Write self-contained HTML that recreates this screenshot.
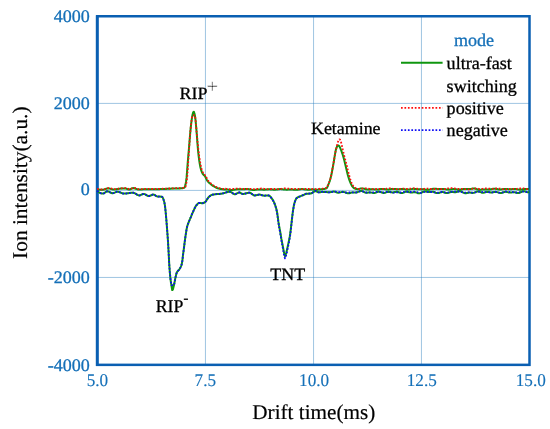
<!DOCTYPE html>
<html><head><meta charset="utf-8"><title>Ion mobility spectrum</title>
<style>
html,body{margin:0;padding:0;background:#fff;}
svg{display:block;}
text{font-family:"Liberation Serif",serif;text-rendering:geometricPrecision;}
.tk{font-size:17.9px;fill:#1570b8;stroke:#1570b8;stroke-width:0.3px;}
.lb{font-size:17.9px;fill:#000;stroke:#000;stroke-width:0.3px;}
.ax{font-size:21px;fill:#000;stroke:#000;stroke-width:0.18px;}
.tx{stroke-width:0.15px;}
.sup{stroke:none;}
.minus{font-size:16px;font-weight:bold;stroke:none;}
.plus{font-size:20px;stroke:#fff;stroke-width:0.45px;}
</style></head><body>
<svg width="550" height="429" viewBox="0 0 550 429">
<rect width="550" height="429" fill="#ffffff"/>
<g stroke="#2b7fbd" stroke-opacity="0.45" stroke-width="1" fill="none">
<line x1="205.45" y1="16.25" x2="205.45" y2="364.8"/>
<line x1="313.55" y1="16.25" x2="313.55" y2="364.8"/>
<line x1="421.45" y1="16.25" x2="421.45" y2="364.8"/>
<line x1="97.3" y1="103.40" x2="529.5" y2="103.40"/>
<line x1="97.3" y1="190.40" x2="529.5" y2="190.40"/>
<line x1="97.3" y1="277.45" x2="529.5" y2="277.45"/>
</g>
<g stroke="#0a5fb2" fill="none">
<rect x="97.3" y="16.25" width="432.2" height="348.6" stroke-width="2.5"/>
<line x1="97.2" y1="15.15" x2="97.2" y2="365.90000000000003" stroke-width="2.8"/>
</g>
<g fill="none" stroke-linejoin="round" stroke-linecap="butt">
<polyline stroke="#0f960f" stroke-width="2.0" points="97.2,189.3 97.8,189.4 98.4,189.6 99.0,189.6 99.6,189.7 100.2,189.7 100.8,189.8 101.4,189.8 102.0,189.8 102.6,189.8 103.2,189.7 103.8,189.6 104.4,189.4 105.0,189.2 105.6,189.0 106.2,188.8 106.8,188.6 107.4,188.5 108.0,188.4 108.6,188.4 109.2,188.5 109.8,188.6 110.4,188.8 111.0,188.9 111.6,189.1 112.2,189.3 112.8,189.4 113.4,189.5 114.0,189.5 114.6,189.5 115.2,189.4 115.8,189.3 116.4,189.2 117.0,189.1 117.6,189.0 118.2,188.9 118.8,188.8 119.4,188.8 120.0,188.7 120.6,188.6 121.2,188.6 121.8,188.5 122.4,188.5 123.0,188.5 123.6,188.4 124.2,188.4 124.8,188.4 125.4,188.5 126.0,188.6 126.6,188.8 127.2,189.0 127.8,189.2 128.4,189.4 129.0,189.5 129.6,189.5 130.2,189.3 130.8,189.0 131.4,188.7 132.0,188.4 132.6,188.2 133.2,188.1 133.8,188.2 134.4,188.3 135.0,188.5 135.6,188.7 136.2,188.9 136.8,189.1 137.4,189.3 138.0,189.5 138.6,189.5 139.2,189.5 139.8,189.5 140.4,189.5 141.0,189.4 141.6,189.4 142.2,189.4 142.8,189.3 143.4,189.3 144.0,189.3 144.6,189.2 145.2,189.2 145.8,189.2 146.4,189.2 147.0,189.2 147.6,189.2 148.2,189.2 148.8,189.2 149.4,189.2 150.0,189.2 150.6,189.3 151.2,189.3 151.8,189.3 152.4,189.3 153.0,189.3 153.6,189.3 154.2,189.3 154.8,189.3 155.4,189.3 156.0,189.3 156.6,189.3 157.2,189.3 157.8,189.2 158.4,189.2 159.0,189.2 159.6,189.2 160.2,189.1 160.8,189.1 161.4,189.1 162.0,189.0 162.6,189.0 163.2,189.0 163.8,189.0 164.4,188.9 165.0,188.9 165.6,188.9 166.2,188.9 166.8,188.8 167.4,188.8 168.0,188.8 168.6,188.8 169.2,188.7 169.8,188.7 170.4,188.7 171.0,188.7 171.6,188.6 172.2,188.6 172.8,188.6 173.4,188.6 174.0,188.5 174.6,188.5 175.2,188.5 175.8,188.5 176.4,188.5 177.0,188.4 177.6,188.4 178.2,188.4 178.8,188.4 179.4,188.4 180.0,188.4 180.6,188.3 181.2,188.3 181.8,188.2 182.4,188.2 183.0,188.1 183.6,187.9 184.2,187.7 184.8,187.2 185.4,185.1 186.0,181.9 186.6,177.4 187.2,169.7 187.8,161.8 188.4,154.9 189.0,148.0 189.6,140.5 190.2,133.2 190.8,127.1 191.4,121.8 192.0,117.6 192.6,114.5 193.2,112.2 193.8,111.7 194.4,113.3 195.0,116.0 195.6,120.6 196.2,127.3 196.8,134.4 197.4,142.6 198.0,150.0 198.6,155.6 199.2,160.4 199.8,164.1 200.4,167.2 201.0,169.6 201.6,171.3 202.2,172.8 202.8,173.9 203.4,174.7 204.0,175.2 204.6,175.7 205.2,176.5 205.8,177.7 206.4,179.1 207.0,180.3 207.6,181.2 208.2,181.9 208.8,182.5 209.4,183.1 210.0,183.6 210.6,184.1 211.2,184.6 211.8,185.0 212.4,185.5 213.0,185.8 213.6,186.2 214.2,186.5 214.8,186.9 215.4,187.2 216.0,187.5 216.6,187.8 217.2,188.1 217.8,188.3 218.4,188.5 219.0,188.6 219.6,188.7 220.2,188.9 220.8,189.0 221.4,189.1 222.0,189.2 222.6,189.2 223.2,189.3 223.8,189.4 224.4,189.4 225.0,189.4 225.6,189.4 226.4,189.4 227.2,189.5 228.0,189.6 228.8,189.7 229.6,189.8 230.4,189.9 231.2,190.0 232.0,190.0 232.8,189.9 233.6,189.8 234.4,189.7 235.2,189.6 236.0,189.4 236.8,189.3 237.6,189.3 238.4,189.2 239.2,189.2 240.0,189.3 240.8,189.3 241.6,189.3 242.4,189.3 243.2,189.3 244.0,189.2 244.8,189.2 245.6,189.1 246.4,189.1 247.2,189.1 248.0,189.1 248.8,189.2 249.6,189.4 250.4,189.5 251.2,189.7 252.0,189.8 252.8,189.9 253.6,189.9 254.4,189.9 255.2,189.8 256.0,189.8 256.8,189.6 257.6,189.6 258.4,189.5 259.2,189.5 260.0,189.5 260.8,189.5 261.6,189.6 262.4,189.6 263.2,189.7 264.0,189.7 264.8,189.7 265.6,189.6 266.4,189.5 267.2,189.4 268.0,189.4 268.8,189.3 269.6,189.3 270.4,189.4 271.2,189.4 272.0,189.5 272.8,189.6 273.6,189.7 274.4,189.7 275.2,189.7 276.0,189.6 276.8,189.5 277.6,189.4 278.4,189.3 279.2,189.2 280.0,189.1 280.8,189.1 281.6,189.2 282.4,189.2 283.2,189.4 284.0,189.5 284.8,189.6 285.6,189.6 286.4,189.7 287.2,189.7 288.0,189.6 288.8,189.6 289.6,189.5 290.4,189.5 291.2,189.5 292.0,189.5 292.8,189.6 293.6,189.7 294.4,189.7 295.2,189.8 296.0,189.8 296.8,189.7 297.6,189.7 298.4,189.5 299.2,189.4 300.0,189.3 300.8,189.2 301.6,189.1 302.4,189.1 303.2,189.2 304.0,189.3 304.8,189.4 305.6,189.5 306.4,189.6 307.2,189.7 308.0,189.8 308.8,189.7 309.6,189.7 310.4,189.6 311.2,189.6 312.0,189.5 312.8,189.5 313.6,189.5 314.4,189.6 315.2,189.6 316.0,189.7 316.8,189.7 317.6,189.7 318.4,189.6 319.2,189.6 320.0,189.4 320.8,189.3 321.6,189.2 322.0,189.2 322.6,189.2 323.2,189.1 323.8,189.0 324.4,188.9 325.0,188.8 325.6,188.6 326.2,188.3 326.8,188.0 327.4,186.9 328.0,185.5 328.6,184.0 329.2,182.5 329.8,180.8 330.4,178.8 331.0,176.6 331.6,173.7 332.2,170.5 332.8,167.4 333.4,164.1 334.0,160.5 334.6,156.6 335.2,153.2 335.8,150.1 336.4,148.1 337.0,146.6 337.6,145.8 338.2,145.4 338.8,145.7 339.4,146.3 340.0,147.4 340.6,149.0 341.2,150.5 341.8,152.1 342.4,153.8 343.0,155.7 343.6,157.8 344.2,160.1 344.8,162.6 345.4,165.0 346.0,167.5 346.6,170.0 347.2,172.5 347.8,174.9 348.4,177.0 349.0,178.9 349.6,180.6 350.2,182.2 350.8,183.6 351.4,184.8 352.0,185.9 352.6,186.8 353.2,187.4 353.8,187.9 354.4,188.3 355.0,188.6 355.6,188.8 356.2,189.0 356.8,189.1 357.4,189.2 358.0,189.2 358.6,188.9 359.4,188.8 360.2,188.6 361.0,188.5 361.8,188.4 362.6,188.5 363.4,188.6 364.2,188.8 365.0,189.0 365.8,189.2 366.6,189.4 367.4,189.5 368.2,189.5 369.0,189.5 369.8,189.4 370.6,189.3 371.4,189.3 372.2,189.2 373.0,189.3 373.8,189.3 374.6,189.4 375.4,189.5 376.2,189.6 377.0,189.6 377.8,189.5 378.6,189.4 379.4,189.3 380.2,189.1 381.0,189.0 381.8,188.9 382.6,188.9 383.4,189.0 384.2,189.1 385.0,189.2 385.8,189.4 386.6,189.5 387.4,189.6 388.2,189.5 389.0,189.5 389.8,189.3 390.6,189.2 391.4,189.0 392.2,188.9 393.0,188.9 393.8,188.9 394.6,189.0 395.4,189.1 396.2,189.2 397.0,189.2 397.8,189.2 398.6,189.2 399.4,189.2 400.2,189.1 401.0,189.0 401.8,188.9 402.6,188.9 403.4,189.0 404.2,189.1 405.0,189.3 405.8,189.4 406.6,189.6 407.4,189.6 408.2,189.6 409.0,189.6 409.8,189.4 410.6,189.3 411.4,189.1 412.2,188.9 413.0,188.8 413.8,188.8 414.6,188.9 415.4,189.0 416.2,189.1 417.0,189.2 417.8,189.3 418.6,189.3 419.4,189.3 420.2,189.3 421.0,189.2 421.8,189.2 422.6,189.2 423.4,189.2 424.2,189.3 425.0,189.4 425.8,189.6 426.6,189.7 427.4,189.8 428.2,189.8 429.0,189.7 429.8,189.5 430.6,189.3 431.4,189.1 432.2,188.9 433.0,188.8 433.8,188.7 434.6,188.7 435.4,188.7 436.2,188.8 437.0,188.9 437.8,189.0 438.6,189.1 439.4,189.1 440.2,189.1 441.0,189.0 441.8,188.9 442.6,188.9 443.4,188.9 444.2,189.0 445.0,189.1 445.8,189.3 446.6,189.4 447.4,189.6 448.2,189.6 449.0,189.6 449.8,189.6 450.6,189.5 451.4,189.3 452.2,189.2 453.0,189.1 453.8,189.0 454.6,189.1 455.4,189.2 456.2,189.3 457.0,189.4 457.8,189.6 458.6,189.6 459.4,189.6 460.2,189.6 461.0,189.5 461.8,189.3 462.6,189.2 463.4,189.1 464.2,189.0 465.0,189.0 465.8,189.0 466.6,189.1 467.4,189.1 468.2,189.1 469.0,189.1 469.8,189.0 470.6,188.9 471.4,188.8 472.2,188.6 473.0,188.6 473.8,188.5 474.6,188.6 475.4,188.7 476.2,188.9 477.0,189.1 477.8,189.4 478.6,189.6 479.4,189.7 480.2,189.7 481.0,189.7 481.8,189.6 482.6,189.5 483.4,189.4 484.2,189.4 485.0,189.4 485.8,189.4 486.6,189.4 487.4,189.5 488.2,189.5 489.0,189.5 489.8,189.4 490.6,189.3 491.4,189.2 492.2,189.0 493.0,188.8 493.8,188.8 494.6,188.7 495.4,188.8 496.2,188.9 497.0,189.0 497.8,189.2 498.6,189.4 499.4,189.5 500.2,189.5 501.0,189.4 501.8,189.3 502.6,189.2 503.4,189.1 504.2,189.0 505.0,188.9 505.8,188.9 506.6,189.0 507.4,189.1 508.2,189.2 509.0,189.3 509.8,189.3 510.6,189.3 511.4,189.2 512.2,189.1 513.0,189.0 513.8,189.0 514.6,188.9 515.4,189.0 516.2,189.1 517.0,189.2 517.8,189.4 518.6,189.5 519.4,189.6 520.2,189.7 521.0,189.6 521.8,189.5 522.6,189.3 523.4,189.1 524.2,189.0 525.0,188.9 525.8,188.9 526.6,188.9 527.4,189.0 528.2,189.1 529.0,189.2"/>
<polyline stroke="#0f960f" stroke-width="2.0" points="97.2,190.7 97.8,191.3 98.4,191.8 99.0,192.3 99.6,192.7 100.2,193.0 100.8,193.2 101.4,193.4 102.0,193.5 102.6,193.6 103.2,193.6 103.8,193.4 104.4,193.0 105.0,192.6 105.6,192.1 106.2,191.7 106.8,191.4 107.4,191.3 108.0,191.4 108.6,191.6 109.2,191.8 109.8,192.2 110.4,192.5 111.0,192.8 111.6,193.0 112.2,193.2 112.8,193.2 113.4,193.1 114.0,192.9 114.6,192.6 115.2,192.4 115.8,192.1 116.4,191.9 117.0,191.7 117.6,191.7 118.2,191.8 118.8,191.9 119.4,192.1 120.0,192.3 120.6,192.6 121.2,192.8 121.8,193.1 122.4,193.3 123.0,193.5 123.6,193.6 124.2,193.6 124.8,193.6 125.4,193.5 126.0,193.5 126.6,193.4 127.2,193.3 127.8,193.3 128.4,193.2 129.0,193.1 129.6,193.0 130.2,192.9 130.8,192.8 131.4,192.8 132.0,192.7 132.6,192.7 133.2,192.7 133.8,192.9 134.4,193.1 135.0,193.4 135.6,193.7 136.2,194.1 136.8,194.5 137.4,194.8 138.0,195.1 138.6,195.3 139.2,195.4 139.8,195.4 140.4,195.2 141.0,194.9 141.6,194.6 142.2,194.3 142.8,194.1 143.4,193.9 144.0,193.9 144.6,194.1 145.2,194.4 145.8,194.7 146.4,195.1 147.0,195.5 147.6,195.8 148.2,196.0 148.8,196.1 149.4,196.0 150.0,195.8 150.6,195.6 151.2,195.2 151.8,195.0 152.4,194.7 153.0,194.6 153.6,194.6 154.2,194.8 154.8,195.1 155.4,195.5 156.0,195.9 156.6,196.2 157.2,196.4 157.8,196.5 158.4,196.6 159.0,196.6 159.6,196.6 160.2,196.6 160.8,196.7 161.4,196.7 162.0,196.8 162.6,197.4 163.2,198.6 163.8,200.5 164.4,202.6 165.0,205.8 165.6,211.3 166.2,218.0 166.8,225.3 167.4,233.3 168.0,241.4 168.6,251.9 169.2,263.6 169.8,272.0 170.4,278.3 171.0,282.8 171.6,286.5 172.2,290.1 172.8,289.7 173.4,287.5 174.0,285.1 174.6,282.1 175.2,278.8 175.8,276.1 176.4,273.6 177.0,272.1 177.6,271.2 178.2,270.6 178.8,270.0 179.4,269.3 180.0,268.3 180.6,267.2 181.2,265.8 181.8,263.9 182.4,260.6 183.0,255.0 183.6,250.7 184.2,246.0 184.8,241.2 185.4,236.9 186.0,232.8 186.6,229.2 187.2,226.4 187.8,224.5 188.4,222.9 189.0,221.5 189.6,220.0 190.2,218.5 190.8,217.1 191.4,215.6 192.0,214.2 192.6,212.8 193.2,211.5 193.8,210.1 194.4,208.8 195.0,207.5 195.6,206.4 196.2,205.5 196.8,204.8 197.4,204.1 198.0,203.5 198.6,203.1 199.2,203.0 199.8,203.0 200.4,203.1 201.0,203.1 201.6,203.2 202.2,203.2 202.8,203.2 203.4,203.0 204.0,202.8 204.6,202.4 205.2,202.0 205.8,201.4 206.4,200.6 207.0,199.6 207.6,198.6 208.2,197.7 208.8,197.0 209.4,196.5 210.0,196.0 210.6,195.5 211.2,195.1 211.8,194.9 212.4,194.7 213.0,194.6 213.6,194.5 214.2,194.4 214.8,194.3 215.4,194.2 216.0,194.2 216.6,194.1 217.2,194.1 217.8,194.0 218.4,194.0 219.0,193.9 219.6,193.9 220.2,193.8 220.8,193.7 221.4,193.7 222.0,193.6 222.6,193.4 223.2,193.3 223.8,193.1 224.4,192.9 225.0,192.8 225.6,192.6 226.2,192.4 226.8,192.2 227.4,192.0 228.0,191.9 228.6,191.8 229.2,191.7 229.8,191.7 230.4,191.8 231.0,192.1 231.6,192.4 232.2,192.8 232.8,193.3 233.4,193.7 234.0,194.0 234.6,194.2 235.2,194.2 235.8,194.0 236.4,193.7 237.0,193.4 237.6,193.1 238.2,192.8 238.8,192.6 239.4,192.5 240.0,192.6 240.6,192.9 241.2,193.3 241.8,193.6 242.4,193.8 243.0,193.9 243.6,193.9 244.2,193.8 244.8,193.7 245.4,193.5 246.0,193.4 246.6,193.2 247.2,193.0 247.8,192.9 248.4,192.8 249.0,192.7 249.6,192.7 250.2,192.8 250.8,193.2 251.4,193.6 252.0,194.0 252.6,194.5 253.2,194.9 253.8,195.3 254.4,195.4 255.0,195.4 255.6,195.3 256.2,195.2 256.8,195.1 257.4,194.9 258.0,194.8 258.6,194.7 259.2,194.6 259.8,194.6 260.4,194.7 261.0,194.9 261.6,195.1 262.2,195.3 262.8,195.5 263.4,195.6 264.0,195.7 264.6,195.7 265.2,195.6 265.8,195.6 266.4,195.5 267.0,195.5 267.6,195.4 268.2,195.4 268.8,195.5 269.4,195.8 270.0,196.3 270.6,196.9 271.2,197.7 271.8,198.5 272.4,199.4 273.0,200.3 273.6,201.4 274.2,202.6 274.8,204.1 275.4,205.8 276.0,207.7 276.6,210.0 277.2,212.9 277.8,217.2 278.4,221.7 279.0,225.4 279.6,228.6 280.2,231.8 280.8,235.2 281.4,238.9 282.0,242.1 282.6,245.0 283.2,248.2 283.8,251.6 284.4,254.4 285.0,256.2 285.6,255.1 286.2,253.0 286.8,250.6 287.4,247.9 288.0,245.1 288.6,242.4 289.2,239.5 289.8,236.4 290.4,232.5 291.0,227.4 291.6,222.2 292.2,216.8 292.8,212.0 293.4,208.1 294.0,204.8 294.6,202.6 295.2,200.8 295.8,199.3 296.4,198.3 297.0,197.8 297.6,197.4 298.2,197.1 298.8,196.8 299.4,196.6 300.0,196.4 300.6,196.1 301.2,195.9 301.8,195.7 302.4,195.4 303.0,195.2 303.6,195.0 304.2,194.7 304.8,194.3 305.4,194.0 306.0,193.8 306.6,193.7 307.2,193.7 307.8,193.7 308.4,193.7 309.0,193.6 309.6,193.6 310.2,193.6 310.8,193.5 311.4,193.3 312.0,193.0 312.6,192.6 313.2,192.2 313.8,191.8 314.4,191.4 315.0,191.1 315.6,191.0 316.2,191.2 316.8,191.6 317.4,191.9 318.0,192.2 318.6,192.3 319.2,192.3 319.8,192.3 320.4,192.2 321.0,192.1 321.6,191.9 322.2,191.7 322.8,191.8 323.6,191.9 324.4,191.9 325.2,192.0 326.0,192.0 326.8,192.1 327.6,192.2 328.4,192.2 329.2,192.2 330.0,192.2 330.8,192.1 331.6,191.9 332.4,191.8 333.2,191.6 334.0,191.6 334.8,191.7 335.6,191.9 336.4,192.2 337.2,192.5 338.0,192.7 338.8,192.7 339.6,192.6 340.4,192.4 341.2,192.1 342.0,191.9 342.8,191.8 343.6,191.9 344.4,192.1 345.2,192.4 346.0,192.8 346.8,193.1 347.6,193.2 348.4,193.3 349.2,193.2 350.0,193.0 350.8,192.7 351.6,192.5 352.4,192.4 353.2,192.4 354.0,192.5 354.8,192.6 355.6,192.6 356.4,192.5 357.2,192.3 358.0,191.9 358.8,191.6 359.6,191.2 360.4,191.0 361.2,191.0 362.0,191.1 362.8,191.4 363.6,191.8 364.4,192.2 365.2,192.6 366.0,192.8 366.8,192.8 367.6,192.7 368.4,192.6 369.2,192.5 370.0,192.4 370.8,192.4 371.6,192.6 372.4,192.8 373.2,192.9 374.0,193.0 374.8,192.9 375.6,192.7 376.4,192.4 377.2,192.1 378.0,191.8 378.8,191.7 379.6,191.7 380.4,191.9 381.2,192.2 382.0,192.5 382.8,192.8 383.6,192.9 384.4,192.9 385.2,192.7 386.0,192.4 386.8,192.1 387.6,191.9 388.4,191.8 389.2,191.9 390.0,192.0 390.8,192.2 391.6,192.3 392.4,192.4 393.2,192.4 394.0,192.2 394.8,192.0 395.6,191.9 396.4,191.8 397.2,191.8 398.0,192.0 398.8,192.3 399.6,192.6 400.4,192.9 401.2,193.1 402.0,193.0 402.8,192.9 403.6,192.6 404.4,192.2 405.2,191.9 406.0,191.7 406.8,191.7 407.6,191.8 408.4,192.0 409.2,192.2 410.0,192.4 410.8,192.5 411.6,192.5 412.4,192.4 413.2,192.3 414.0,192.2 414.8,192.2 415.6,192.3 416.4,192.6 417.2,192.9 418.0,193.2 418.8,193.3 419.6,193.3 420.4,193.1 421.2,192.8 422.0,192.4 422.8,192.0 423.6,191.6 424.4,191.4 425.2,191.4 426.0,191.5 426.8,191.7 427.6,191.9 428.4,192.0 429.2,192.1 430.0,192.0 430.8,191.9 431.6,191.8 432.4,191.7 433.2,191.8 434.0,192.0 434.8,192.3 435.6,192.7 436.4,193.0 437.2,193.1 438.0,193.1 438.8,193.0 439.6,192.7 440.4,192.4 441.2,192.2 442.0,192.0 442.8,192.1 443.6,192.2 444.4,192.5 445.2,192.8 446.0,193.0 446.8,193.0 447.6,193.0 448.4,192.8 449.2,192.5 450.0,192.2 450.8,192.0 451.6,192.0 452.4,192.0 453.2,192.1 454.0,192.2 454.8,192.3 455.6,192.2 456.4,192.0 457.2,191.8 458.0,191.5 458.8,191.2 459.6,191.1 460.4,191.2 461.2,191.5 462.0,191.8 462.8,192.3 463.6,192.7 464.4,193.0 465.2,193.2 466.0,193.2 466.8,193.0 467.6,192.9 468.4,192.7 469.2,192.6 470.0,192.6 470.8,192.7 471.6,192.8 472.4,192.9 473.2,192.9 474.0,192.7 474.8,192.4 475.6,192.1 476.4,191.8 477.2,191.5 478.0,191.4 478.8,191.5 479.6,191.8 480.4,192.1 481.2,192.4 482.0,192.7 482.8,192.8 483.6,192.8 484.4,192.6 485.2,192.3 486.0,192.1 486.8,191.9 487.6,191.9 488.4,192.0 489.2,192.1 490.0,192.3 490.8,192.5 491.6,192.5 492.4,192.4 493.2,192.2 494.0,192.0 494.8,191.9 495.6,191.8 496.4,191.9 497.2,192.1 498.0,192.4 498.8,192.7 499.6,192.9 500.4,193.1 501.2,193.0 502.0,192.8 502.8,192.5 503.6,192.2 504.4,191.9 505.2,191.8 506.0,191.8 506.8,191.9 507.6,192.1 508.4,192.4 509.2,192.5 510.0,192.6 510.8,192.5 511.6,192.4 512.4,192.3 513.2,192.2 514.0,192.2 514.8,192.3 515.6,192.5 516.4,192.8 517.2,193.0 518.0,193.1 518.8,193.0 519.6,192.8 520.4,192.4 521.2,192.0 522.0,191.6 522.8,191.3 523.6,191.2 524.4,191.3 525.2,191.5 526.0,191.7 526.8,192.0 527.6,192.2 528.4,192.2 529.2,192.2"/>
<polyline stroke="#ff0d0d" stroke-width="1.8" stroke-dasharray="1.7 1.75" points="97.2,189.0 97.8,189.0 98.4,189.1 99.0,189.3 99.6,189.3 100.2,189.4 100.8,189.4 101.4,189.5 102.0,189.5 102.6,189.5 103.2,189.5 103.8,189.4 104.4,189.3 105.0,189.1 105.6,188.9 106.2,188.7 106.8,188.5 107.4,188.3 108.0,188.2 108.6,188.1 109.2,188.1 109.8,188.2 110.4,188.3 111.0,188.5 111.6,188.6 112.2,188.8 112.8,189.0 113.4,189.1 114.0,189.2 114.6,189.2 115.2,189.2 115.8,189.1 116.4,189.0 117.0,188.9 117.6,188.8 118.2,188.7 118.8,188.6 119.4,188.5 120.0,188.5 120.6,188.4 121.2,188.3 121.8,188.3 122.4,188.2 123.0,188.2 123.6,188.2 124.2,188.1 124.8,188.1 125.4,188.1 126.0,188.2 126.6,188.3 127.2,188.5 127.8,188.7 128.4,188.9 129.0,189.1 129.6,189.2 130.2,189.2 130.8,189.0 131.4,188.7 132.0,188.4 132.6,188.1 133.2,187.9 133.8,187.8 134.4,187.9 135.0,188.0 135.6,188.2 136.2,188.4 136.8,188.6 137.4,188.8 138.0,189.0 138.6,189.2 139.2,189.2 139.8,189.2 140.4,189.2 141.0,189.2 141.6,189.1 142.2,189.1 142.8,189.1 143.4,189.0 144.0,189.0 144.6,189.0 145.2,188.9 145.8,188.9 146.4,188.9 147.0,188.9 147.6,188.9 148.2,188.9 148.8,188.9 149.4,188.9 150.0,188.9 150.6,188.9 151.2,189.0 151.8,189.0 152.4,189.0 153.0,189.0 153.6,189.0 154.2,189.0 154.8,189.0 155.4,189.0 156.0,189.0 156.6,189.0 157.2,189.0 157.8,189.0 158.4,188.9 159.0,188.9 159.6,188.9 160.2,188.9 160.8,188.8 161.4,188.8 162.0,188.8 162.6,188.7 163.2,188.7 163.8,188.7 164.4,188.7 165.0,188.6 165.6,188.6 166.2,188.6 166.8,188.6 167.4,188.5 168.0,188.5 168.6,188.5 169.2,188.5 169.8,188.4 170.4,188.4 171.0,188.4 171.6,188.4 172.2,188.3 172.8,188.3 173.4,188.3 174.0,188.3 174.6,188.2 175.2,188.2 175.8,188.2 176.4,188.2 177.0,188.2 177.6,188.1 178.2,188.1 178.8,188.1 179.4,188.1 180.0,188.1 180.6,188.1 181.2,188.0 181.8,188.0 182.4,187.9 183.0,187.9 183.6,187.8 184.2,187.6 184.8,187.4 185.4,186.9 186.0,184.8 186.6,181.6 187.2,177.1 187.8,168.5 188.4,159.1 189.0,150.7 189.6,141.6 190.2,132.9 190.8,126.8 191.4,121.5 192.0,117.3 192.6,115.3 193.2,115.3 193.8,115.3 194.4,115.3 195.0,115.7 195.6,120.3 196.2,127.0 196.8,134.1 197.4,140.3 198.0,146.2 198.6,151.6 199.2,156.1 199.8,160.2 200.4,163.8 201.0,166.9 201.6,169.3 202.2,171.0 202.8,172.5 203.4,173.6 204.0,174.4 204.6,174.9 205.2,175.4 205.8,176.2 206.4,177.4 207.0,178.8 207.6,180.0 208.2,180.9 208.8,181.6 209.4,182.2 210.0,182.8 210.6,183.3 211.2,183.8 211.8,184.3 212.4,184.7 213.0,185.2 213.6,185.5 214.2,185.9 214.8,186.2 215.4,186.6 216.0,186.9 216.6,187.2 217.2,187.5 217.8,187.8 218.4,188.0 219.0,188.2 219.6,188.3 220.2,188.4 220.8,188.6 221.4,188.7 222.0,188.8 222.6,188.9 223.2,188.9 223.8,189.0 224.4,189.1 225.0,189.1 225.6,188.7 226.4,188.8 227.2,188.9 228.0,189.0 228.8,189.0 229.6,189.1 230.4,189.1 231.2,189.1 232.0,189.1 232.8,189.0 233.6,188.9 234.4,188.8 235.2,188.7 236.0,188.6 236.8,188.6 237.6,188.6 238.4,188.6 239.2,188.7 240.0,188.7 240.8,188.8 241.6,188.9 242.4,189.0 243.2,189.0 244.0,189.0 244.8,189.0 245.6,188.9 246.4,188.9 247.2,188.8 248.0,188.8 248.8,188.8 249.6,188.8 250.4,188.9 251.2,189.0 252.0,189.0 252.8,189.1 253.6,189.2 254.4,189.2 255.2,189.2 256.0,189.1 256.8,189.0 257.6,188.9 258.4,188.8 259.2,188.7 260.0,188.6 260.8,188.6 261.6,188.5 262.4,188.6 263.2,188.7 264.0,188.8 264.8,188.9 265.6,189.0 266.4,189.1 267.2,189.1 268.0,189.1 268.8,189.1 269.6,189.1 270.4,189.0 271.2,189.0 272.0,189.0 272.8,189.0 273.6,189.0 274.4,189.0 275.2,189.1 276.0,189.1 276.8,189.2 277.6,189.2 278.4,189.2 279.2,189.1 280.0,189.1 280.8,188.9 281.6,188.8 282.4,188.7 283.2,188.6 284.0,188.5 284.8,188.4 285.6,188.4 286.4,188.4 287.2,188.5 288.0,188.6 288.8,188.7 289.6,188.8 290.4,188.9 291.2,188.9 292.0,189.0 292.8,189.0 293.6,188.9 294.4,188.9 295.2,188.8 296.0,188.8 296.8,188.8 297.6,188.8 298.4,188.9 299.2,189.0 300.0,189.0 300.8,189.1 301.6,189.2 302.4,189.2 303.2,189.2 304.0,189.2 304.8,189.1 305.6,189.0 306.4,188.9 307.2,188.9 308.0,188.8 308.8,188.8 309.6,188.8 310.4,188.8 311.2,188.9 312.0,189.0 312.8,189.1 313.6,189.2 314.4,189.2 315.2,189.2 316.0,189.2 316.8,189.1 317.6,189.0 318.4,188.9 319.2,188.8 320.0,188.7 320.8,188.6 321.6,188.6 322.0,188.7 322.6,188.7 323.2,188.6 323.8,188.6 324.4,188.4 325.0,188.3 325.6,188.1 326.2,187.9 326.8,187.6 327.4,186.5 328.0,185.0 328.6,183.5 329.2,182.0 329.8,180.3 330.4,178.4 331.0,176.2 331.6,173.3 332.2,170.1 332.8,167.0 333.4,163.7 334.0,160.2 334.6,156.6 335.2,153.4 335.8,150.3 336.4,147.6 337.0,145.3 337.6,143.2 338.2,141.3 338.8,140.0 339.4,139.3 340.0,139.5 340.6,140.6 341.2,142.7 341.8,145.2 342.4,148.1 343.0,150.7 343.6,153.2 344.2,155.6 344.8,158.0 345.4,160.3 346.0,162.6 346.6,165.0 347.2,167.5 347.8,170.0 348.4,172.4 349.0,174.8 349.6,177.0 350.2,179.0 350.8,180.9 351.4,182.7 352.0,184.0 352.6,185.1 353.2,186.0 353.8,186.8 354.4,187.3 355.0,187.7 355.6,188.1 356.2,188.4 356.8,188.6 357.4,188.7 358.0,188.8 358.6,188.8 359.4,188.8 360.2,188.8 361.0,188.8 361.8,188.7 362.6,188.6 363.4,188.5 364.2,188.4 365.0,188.3 365.8,188.3 366.6,188.3 367.4,188.4 368.2,188.5 369.0,188.7 369.8,188.8 370.6,189.0 371.4,189.1 372.2,189.2 373.0,189.2 373.8,189.2 374.6,189.2 375.4,189.1 376.2,189.0 377.0,188.9 377.8,188.8 378.6,188.8 379.4,188.8 380.2,188.8 381.0,188.8 381.8,188.9 382.6,188.9 383.4,188.9 384.2,188.9 385.0,188.9 385.8,188.8 386.6,188.7 387.4,188.6 388.2,188.5 389.0,188.4 389.8,188.4 390.6,188.4 391.4,188.5 392.2,188.6 393.0,188.8 393.8,188.9 394.6,189.0 395.4,189.1 396.2,189.2 397.0,189.2 397.8,189.2 398.6,189.1 399.4,189.0 400.2,188.9 401.0,188.8 401.8,188.7 402.6,188.7 403.4,188.6 404.2,188.7 405.0,188.7 405.8,188.8 406.6,188.8 407.4,188.8 408.2,188.8 409.0,188.8 409.8,188.7 410.6,188.7 411.4,188.6 412.2,188.5 413.0,188.4 413.8,188.4 414.6,188.4 415.4,188.5 416.2,188.6 417.0,188.7 417.8,188.9 418.6,189.0 419.4,189.1 420.2,189.1 421.0,189.1 421.8,189.1 422.6,189.0 423.4,188.9 424.2,188.8 425.0,188.7 425.8,188.6 426.6,188.6 427.4,188.6 428.2,188.7 429.0,188.7 429.8,188.8 430.6,188.9 431.4,189.0 432.2,189.1 433.0,189.1 433.8,189.1 434.6,189.0 435.4,189.0 436.2,188.9 437.0,188.8 437.8,188.8 438.6,188.8 439.4,188.9 440.2,188.9 441.0,189.0 441.8,189.1 442.6,189.1 443.4,189.1 444.2,189.1 445.0,189.0 445.8,188.9 446.6,188.8 447.4,188.6 448.2,188.4 449.0,188.3 449.8,188.2 450.6,188.2 451.4,188.2 452.2,188.2 453.0,188.3 453.8,188.4 454.6,188.5 455.4,188.6 456.2,188.7 457.0,188.8 457.8,188.8 458.6,188.8 459.4,188.8 460.2,188.8 461.0,188.8 461.8,188.8 462.6,188.8 463.4,188.9 464.2,189.0 465.0,189.1 465.8,189.2 466.6,189.3 467.4,189.4 468.2,189.4 469.0,189.3 469.8,189.2 470.6,189.1 471.4,189.0 472.2,188.8 473.0,188.7 473.8,188.6 474.6,188.5 475.4,188.5 476.2,188.6 477.0,188.7 477.8,188.7 478.6,188.8 479.4,188.9 480.2,188.9 481.0,188.9 481.8,188.9 482.6,188.8 483.4,188.7 484.2,188.7 485.0,188.6 485.8,188.5 486.6,188.5 487.4,188.5 488.2,188.6 489.0,188.7 489.8,188.7 490.6,188.8 491.4,188.8 492.2,188.9 493.0,188.8 493.8,188.8 494.6,188.7 495.4,188.6 496.2,188.5 497.0,188.5 497.8,188.5 498.6,188.5 499.4,188.6 500.2,188.7 501.0,188.8 501.8,189.0 502.6,189.1 503.4,189.2 504.2,189.3 505.0,189.3 505.8,189.3 506.6,189.2 507.4,189.1 508.2,189.0 509.0,188.9 509.8,188.8 510.6,188.8 511.4,188.7 512.2,188.8 513.0,188.8 513.8,188.8 514.6,188.9 515.4,188.9 516.2,188.9 517.0,188.8 517.8,188.7 518.6,188.7 519.4,188.6 520.2,188.5 521.0,188.4 521.8,188.4 522.6,188.4 523.4,188.5 524.2,188.6 525.0,188.8 525.8,188.9 526.6,189.0 527.4,189.1 528.2,189.2 529.0,189.2"/>
<polyline stroke="#0d0df5" stroke-width="1.8" stroke-dasharray="1.7 1.75" points="97.2,190.7 97.8,191.3 98.4,191.8 99.0,192.3 99.6,192.7 100.2,193.0 100.8,193.2 101.4,193.4 102.0,193.5 102.6,193.6 103.2,193.6 103.8,193.4 104.4,193.0 105.0,192.6 105.6,192.1 106.2,191.7 106.8,191.4 107.4,191.3 108.0,191.4 108.6,191.6 109.2,191.8 109.8,192.2 110.4,192.5 111.0,192.8 111.6,193.0 112.2,193.2 112.8,193.2 113.4,193.1 114.0,192.9 114.6,192.6 115.2,192.4 115.8,192.1 116.4,191.9 117.0,191.7 117.6,191.7 118.2,191.8 118.8,191.9 119.4,192.1 120.0,192.3 120.6,192.6 121.2,192.8 121.8,193.1 122.4,193.3 123.0,193.5 123.6,193.6 124.2,193.6 124.8,193.6 125.4,193.5 126.0,193.5 126.6,193.4 127.2,193.3 127.8,193.3 128.4,193.2 129.0,193.1 129.6,193.0 130.2,192.9 130.8,192.8 131.4,192.8 132.0,192.7 132.6,192.7 133.2,192.7 133.8,192.9 134.4,193.1 135.0,193.4 135.6,193.7 136.2,194.1 136.8,194.5 137.4,194.8 138.0,195.1 138.6,195.3 139.2,195.4 139.8,195.4 140.4,195.2 141.0,194.9 141.6,194.6 142.2,194.3 142.8,194.1 143.4,193.9 144.0,193.9 144.6,194.1 145.2,194.4 145.8,194.7 146.4,195.1 147.0,195.5 147.6,195.8 148.2,196.0 148.8,196.1 149.4,196.0 150.0,195.8 150.6,195.6 151.2,195.2 151.8,195.0 152.4,194.7 153.0,194.6 153.6,194.6 154.2,194.8 154.8,195.1 155.4,195.5 156.0,195.9 156.6,196.2 157.2,196.4 157.8,196.5 158.4,196.6 159.0,196.6 159.6,196.6 160.2,196.6 160.8,196.7 161.4,196.7 162.0,196.8 162.6,197.4 163.2,198.6 163.8,200.5 164.4,202.6 165.0,205.8 165.6,211.3 166.2,218.0 166.8,225.3 167.4,233.3 168.0,241.4 168.6,251.9 169.2,263.6 169.8,272.0 170.4,278.3 171.0,282.8 171.6,285.2 172.2,285.2 172.8,285.2 173.4,285.2 174.0,285.1 174.6,282.1 175.2,278.8 175.8,276.1 176.4,273.6 177.0,272.1 177.6,271.2 178.2,270.6 178.8,270.0 179.4,269.3 180.0,268.3 180.6,267.2 181.2,265.8 181.8,263.9 182.4,260.6 183.0,255.0 183.6,250.7 184.2,246.0 184.8,241.2 185.4,236.9 186.0,232.8 186.6,229.2 187.2,226.4 187.8,224.5 188.4,222.9 189.0,221.5 189.6,220.0 190.2,218.5 190.8,217.1 191.4,215.6 192.0,214.2 192.6,212.8 193.2,211.5 193.8,210.1 194.4,208.8 195.0,207.5 195.6,206.4 196.2,205.5 196.8,204.8 197.4,204.1 198.0,203.5 198.6,203.1 199.2,203.0 199.8,203.0 200.4,203.1 201.0,203.1 201.6,203.2 202.2,203.2 202.8,203.2 203.4,203.0 204.0,202.8 204.6,202.4 205.2,202.0 205.8,201.4 206.4,200.6 207.0,199.6 207.6,198.6 208.2,197.7 208.8,197.0 209.4,196.5 210.0,196.0 210.6,195.5 211.2,195.1 211.8,194.9 212.4,194.7 213.0,194.6 213.6,194.5 214.2,194.4 214.8,194.3 215.4,194.2 216.0,194.2 216.6,194.1 217.2,194.1 217.8,194.0 218.4,194.0 219.0,193.9 219.6,193.9 220.2,193.8 220.8,193.7 221.4,193.7 222.0,193.6 222.6,193.4 223.2,193.3 223.8,193.1 224.4,192.9 225.0,192.8 225.6,192.6 226.2,192.4 226.8,192.2 227.4,192.0 228.0,191.9 228.6,191.8 229.2,191.7 229.8,191.7 230.4,191.8 231.0,192.1 231.6,192.4 232.2,192.8 232.8,193.3 233.4,193.7 234.0,194.0 234.6,194.2 235.2,194.2 235.8,194.0 236.4,193.7 237.0,193.4 237.6,193.1 238.2,192.8 238.8,192.6 239.4,192.5 240.0,192.6 240.6,192.9 241.2,193.3 241.8,193.6 242.4,193.8 243.0,193.9 243.6,193.9 244.2,193.8 244.8,193.7 245.4,193.5 246.0,193.4 246.6,193.2 247.2,193.0 247.8,192.9 248.4,192.8 249.0,192.7 249.6,192.7 250.2,192.8 250.8,193.2 251.4,193.6 252.0,194.0 252.6,194.5 253.2,194.9 253.8,195.3 254.4,195.4 255.0,195.4 255.6,195.3 256.2,195.2 256.8,195.1 257.4,194.9 258.0,194.8 258.6,194.7 259.2,194.6 259.8,194.6 260.4,194.7 261.0,194.9 261.6,195.1 262.2,195.3 262.8,195.5 263.4,195.6 264.0,195.7 264.6,195.7 265.2,195.6 265.8,195.6 266.4,195.5 267.0,195.5 267.6,195.4 268.2,195.4 268.8,195.5 269.4,195.8 270.0,196.3 270.6,197.0 271.2,197.8 271.8,198.7 272.4,199.6 273.0,200.5 273.6,201.6 274.2,202.9 274.8,204.4 275.4,206.2 276.0,208.2 276.6,210.6 277.2,213.6 277.8,218.0 278.4,222.7 279.0,226.5 279.6,229.8 280.2,233.1 280.8,236.6 281.4,240.4 282.0,243.8 282.6,246.8 283.2,250.1 283.8,253.6 284.4,256.5 285.0,258.4 285.6,257.2 286.2,255.1 286.8,252.6 287.4,249.7 288.0,246.9 288.6,244.1 289.2,241.1 289.8,237.9 290.4,233.8 291.0,228.5 291.6,223.1 292.2,217.6 292.8,212.6 293.4,208.6 294.0,205.2 294.6,202.9 295.2,201.0 295.8,199.5 296.4,198.5 297.0,197.9 297.6,197.5 298.2,197.2 298.8,196.9 299.4,196.7 300.0,196.5 300.6,196.1 301.2,195.9 301.8,195.7 302.4,195.4 303.0,195.2 303.6,195.0 304.2,194.7 304.8,194.3 305.4,194.0 306.0,193.8 306.6,193.7 307.2,193.7 307.8,193.7 308.4,193.7 309.0,193.6 309.6,193.6 310.2,193.6 310.8,193.5 311.4,193.3 312.0,193.0 312.6,192.6 313.2,192.2 313.8,191.8 314.4,191.4 315.0,191.1 315.6,191.0 316.2,191.2 316.8,191.6 317.4,191.9 318.0,192.2 318.6,192.3 319.2,192.3 319.8,192.3 320.4,192.2 321.0,192.1 321.6,191.9 322.2,191.8 322.8,191.9 323.6,191.9 324.4,192.0 325.2,192.1 326.0,192.2 326.8,192.3 327.6,192.4 328.4,192.4 329.2,192.4 330.0,192.4 330.8,192.2 331.6,192.1 332.4,191.9 333.2,191.7 334.0,191.6 334.8,191.6 335.6,191.6 336.4,191.8 337.2,191.9 338.0,192.1 338.8,192.2 339.6,192.2 340.4,192.2 341.2,192.2 342.0,192.1 342.8,192.1 343.6,192.2 344.4,192.2 345.2,192.4 346.0,192.5 346.8,192.6 347.6,192.6 348.4,192.6 349.2,192.5 350.0,192.5 350.8,192.4 351.6,192.3 352.4,192.3 353.2,192.4 354.0,192.4 354.8,192.5 355.6,192.5 356.4,192.4 357.2,192.2 358.0,192.0 358.8,191.7 359.6,191.5 360.4,191.3 361.2,191.2 362.0,191.3 362.8,191.4 363.6,191.7 364.4,191.9 365.2,192.2 366.0,192.4 366.8,192.5 367.6,192.5 368.4,192.5 369.2,192.4 370.0,192.4 370.8,192.4 371.6,192.4 372.4,192.4 373.2,192.4 374.0,192.3 374.8,192.2 375.6,192.1 376.4,191.9 377.2,191.8 378.0,191.7 378.8,191.7 379.6,191.8 380.4,191.9 381.2,192.1 382.0,192.3 382.8,192.4 383.6,192.5 384.4,192.4 385.2,192.3 386.0,192.1 386.8,191.9 387.6,191.8 388.4,191.8 389.2,191.8 390.0,192.0 390.8,192.2 391.6,192.4 392.4,192.5 393.2,192.6 394.0,192.6 394.8,192.6 395.6,192.5 396.4,192.4 397.2,192.4 398.0,192.4 398.8,192.4 399.6,192.4 400.4,192.5 401.2,192.5 402.0,192.4 402.8,192.2 403.6,192.1 404.4,191.9 405.2,191.8 406.0,191.7 406.8,191.7 407.6,191.8 408.4,191.8 409.2,191.9 410.0,192.0 410.8,192.0 411.6,191.9 412.4,191.8 413.2,191.7 414.0,191.7 414.8,191.7 415.6,191.8 416.4,192.0 417.2,192.2 418.0,192.5 418.8,192.7 419.6,192.8 420.4,192.8 421.2,192.7 422.0,192.5 422.8,192.3 423.6,192.1 424.4,191.9 425.2,191.8 426.0,191.8 426.8,191.8 427.6,191.9 428.4,191.9 429.2,191.9 430.0,191.9 430.8,191.9 431.6,192.0 432.4,192.0 433.2,192.1 434.0,192.3 434.8,192.4 435.6,192.6 436.4,192.7 437.2,192.8 438.0,192.7 438.8,192.6 439.6,192.4 440.4,192.2 441.2,192.0 442.0,192.0 442.8,192.0 443.6,192.1 444.4,192.3 445.2,192.5 446.0,192.6 446.8,192.7 447.6,192.7 448.4,192.5 449.2,192.3 450.0,192.1 450.8,191.9 451.6,191.8 452.4,191.7 453.2,191.6 454.0,191.6 454.8,191.6 455.6,191.6 456.4,191.6 457.2,191.5 458.0,191.5 458.8,191.5 459.6,191.5 460.4,191.6 461.2,191.8 462.0,192.1 462.8,192.3 463.6,192.5 464.4,192.6 465.2,192.7 466.0,192.6 466.8,192.6 467.6,192.5 468.4,192.4 469.2,192.4 470.0,192.4 470.8,192.5 471.6,192.7 472.4,192.7 473.2,192.7 474.0,192.7 474.8,192.5 475.6,192.3 476.4,192.0 477.2,191.8 478.0,191.6 478.8,191.6 479.6,191.6 480.4,191.7 481.2,191.8 482.0,192.0 482.8,192.1 483.6,192.2 484.4,192.2 485.2,192.1 486.0,192.1 486.8,192.1 487.6,192.1 488.4,192.2 489.2,192.3 490.0,192.4 490.8,192.4 491.6,192.3 492.4,192.3 493.2,192.1 494.0,192.0 494.8,191.9 495.6,191.9 496.4,192.0 497.2,192.1 498.0,192.3 498.8,192.5 499.6,192.7 500.4,192.7 501.2,192.7 502.0,192.5 502.8,192.3 503.6,192.0 504.4,191.8 505.2,191.6 506.0,191.6 506.8,191.6 507.6,191.7 508.4,191.8 509.2,192.0 510.0,192.1 510.8,192.2 511.6,192.2 512.4,192.2 513.2,192.2 514.0,192.3 514.8,192.3 515.6,192.4 516.4,192.5 517.2,192.6 518.0,192.5 518.8,192.4 519.6,192.3 520.4,192.0 521.2,191.8 522.0,191.7 522.8,191.6 523.6,191.6 524.4,191.7 525.2,191.8 526.0,192.0 526.8,192.1 527.6,192.2 528.4,192.3 529.2,192.2"/>
</g>
<text class="tk" style="font-size:17.7px" transform="translate(89.8,21.9) scale(1.02,1)" text-anchor="end">4000</text>
<text class="tk" style="font-size:17.7px" transform="translate(89.8,109.0) scale(1.02,1)" text-anchor="end">2000</text>
<text class="tk" style="font-size:17.7px" transform="translate(89.8,195.4) scale(1.02,1)" text-anchor="end">0</text>
<text class="tk" style="font-size:17.7px" transform="translate(89.8,283.0) scale(1.02,1)" text-anchor="end">-2000</text>
<text class="tk" style="font-size:17.7px" transform="translate(89.8,370.9) scale(1.02,1)" text-anchor="end">-4000</text>
<text class="tk tx" transform="translate(97.4,386.2) scale(0.96,1)" text-anchor="middle">5.0</text>
<text class="tk tx" transform="translate(205.3,386.2) scale(0.96,1)" text-anchor="middle">7.5</text>
<text class="tk tx" transform="translate(314.1,386.2) scale(0.96,1)" text-anchor="middle">10.0</text>
<text class="tk tx" transform="translate(421.8,386.2) scale(0.96,1)" text-anchor="middle">12.5</text>
<text class="tk tx" transform="translate(530.8,386.2) scale(0.96,1)" text-anchor="middle">15.0</text>
<text class="ax" transform="translate(313.8,419.2) scale(1.01,1)" text-anchor="middle">Drift time(ms)</text>
<text class="ax" transform="translate(26.7,182.7) rotate(-90) scale(1.017,1)" text-anchor="middle">Ion intensity(a.u.)</text>
<text class="lb" style="font-size:17.3px" transform="translate(179.6,98.7) scale(1.035,1)">RIP<tspan class="plus" dx="-0.8" dy="-6.1">+</tspan></text>
<text class="lb" style="font-size:17.9px" transform="translate(155.7,311.9) scale(0.99,1)">RIP<tspan class="minus" dx="0.1" dy="-8.7">-</tspan></text>
<text class="lb" style="font-size:17.2px" transform="translate(270.3,280.1) scale(1.04,1)">TNT</text>
<text class="lb" style="font-size:17.3px" transform="translate(311.0,133.6) scale(1.035,1)">Ketamine</text>
<text class="tk" transform="translate(453.9,46.3) scale(1.01,1)">mode</text>
<line x1="401" y1="62.8" x2="442.6" y2="62.8" stroke="#0f960f" stroke-width="1.9"/>
<text class="lb" transform="translate(446.6,68.8) scale(1.01,1)">ultra-fast</text>
<text class="lb" transform="translate(446.6,91.5) scale(1.01,1)">switching</text>
<line x1="401" y1="107.9" x2="442.6" y2="107.9" stroke="#ff0d0d" stroke-width="1.8" stroke-dasharray="1.7 1.75"/>
<text class="lb" transform="translate(446.6,113.9) scale(1.01,1)">positive</text>
<line x1="401" y1="130.2" x2="442.6" y2="130.2" stroke="#0d0df5" stroke-width="1.8" stroke-dasharray="1.7 1.75"/>
<text class="lb" transform="translate(446.6,136.2) scale(1.01,1)">negative</text>
</svg>
</body></html>
